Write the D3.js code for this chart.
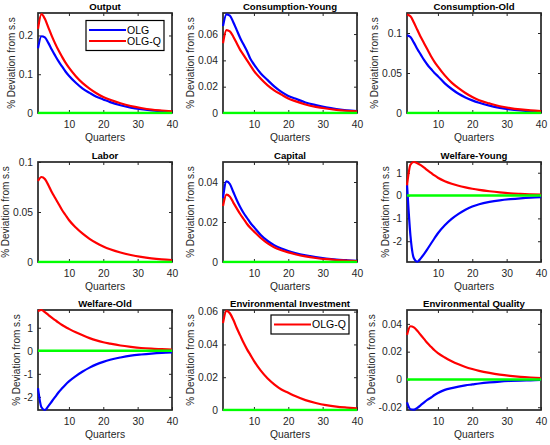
<!DOCTYPE html>
<html>
<head>
<meta charset="utf-8">
<script src="https://cdn.jsdelivr.net/npm/d3@7"></script>
<style>
  body { margin: 0; background: #fff; }
  svg { font-family: "Liberation Sans", Arial, sans-serif; }
</style>
</head>
<body>
<svg id="chart" width="550" height="445"></svg>
<script>
"use strict";

const quarters = [1, 2, 3, 4, 5, 6, 7, 8, 9, 10, 12, 14, 16, 18, 20, 22, 25, 28, 31, 34, 37, 40];
const steadyState = [0, 0, 0, 0, 0, 0, 0, 0, 0, 0, 0, 0, 0, 0, 0, 0, 0, 0, 0, 0, 0, 0];

const outputOLG = [0.167, 0.198, 0.195, 0.181, 0.164, 0.148, 0.133, 0.120, 0.107, 0.096, 0.078, 0.063, 0.052, 0.042, 0.035, 0.028, 0.020, 0.014, 0.010, 0.007, 0.0045, 0.003];
const outputOLGQ = [0.217, 0.255, 0.243, 0.221, 0.199, 0.179, 0.161, 0.145, 0.130, 0.117, 0.095, 0.077, 0.063, 0.051, 0.041, 0.034, 0.025, 0.018, 0.013, 0.009, 0.0065, 0.0045];

const consYoungOLG = [0.066, 0.075, 0.074, 0.069, 0.063, 0.057, 0.052, 0.047, 0.041, 0.037, 0.030, 0.025, 0.020, 0.016, 0.013, 0.011, 0.008, 0.006, 0.0043, 0.003, 0.002, 0.0015];
const consYoungOLGQ = [0.053, 0.063, 0.062, 0.058, 0.053, 0.048, 0.044, 0.040, 0.036, 0.032, 0.026, 0.021, 0.017, 0.014, 0.011, 0.009, 0.0065, 0.0047, 0.0034, 0.0024, 0.0017, 0.0012];

const consOldOLG = [0.097, 0.095, 0.088, 0.080, 0.073, 0.066, 0.060, 0.055, 0.050, 0.046, 0.037, 0.030, 0.024, 0.0195, 0.0158, 0.0128, 0.0092, 0.0065, 0.0046, 0.0033, 0.0023, 0.0016];
const consOldOLGQ = [0.123, 0.121, 0.113, 0.104, 0.095, 0.087, 0.079, 0.071, 0.064, 0.058, 0.047, 0.038, 0.031, 0.025, 0.020, 0.016, 0.012, 0.0085, 0.0062, 0.0045, 0.0032, 0.0023];

const laborOLGQ = [0.081, 0.085, 0.083, 0.077, 0.070, 0.064, 0.058, 0.052, 0.047, 0.042, 0.0345, 0.0283, 0.0232, 0.019, 0.0156, 0.0128, 0.0095, 0.007, 0.0051, 0.0037, 0.0027, 0.002];

const capitalOLG = [0.032, 0.0403, 0.039, 0.035, 0.031, 0.0275, 0.0245, 0.022, 0.0195, 0.0175, 0.0135, 0.0105, 0.0083, 0.0067, 0.0055, 0.0045, 0.0033, 0.0024, 0.0017, 0.0012, 0.0009, 0.0006];
const capitalOLGQ = [0.028, 0.0337, 0.0327, 0.0297, 0.0268, 0.024, 0.0215, 0.019, 0.017, 0.0153, 0.012, 0.0093, 0.0073, 0.0059, 0.0048, 0.0039, 0.0028, 0.002, 0.0014, 0.001, 0.0007, 0.0005];

const welfYoungOLG = [0.5, -1.75, -2.75, -2.9, -2.75, -2.55, -2.33, -2.1, -1.87, -1.65, -1.3, -1.02, -0.8, -0.62, -0.48, -0.38, -0.28, -0.21, -0.16, -0.12, -0.09, -0.07];
const welfYoungOLGQ = [0.45, 1.35, 1.47, 1.42, 1.33, 1.22, 1.1, 0.99, 0.88, 0.78, 0.63, 0.52, 0.43, 0.36, 0.3, 0.25, 0.19, 0.14, 0.1, 0.075, 0.055, 0.04];

const welfOldOLG = [-1.62, -2.45, -2.57, -2.4, -2.2, -2.0, -1.8, -1.63, -1.47, -1.33, -1.1, -0.9, -0.73, -0.59, -0.48, -0.39, -0.29, -0.21, -0.16, -0.12, -0.09, -0.07];
const welfOldOLGQ = [1.72, 1.77, 1.68, 1.56, 1.44, 1.33, 1.22, 1.12, 1.03, 0.95, 0.8, 0.67, 0.55, 0.45, 0.37, 0.31, 0.23, 0.17, 0.12, 0.09, 0.07, 0.05];

const envInvOLGQ = [0.053, 0.0605, 0.059, 0.055, 0.050, 0.0455, 0.041, 0.037, 0.0335, 0.030, 0.024, 0.0192, 0.0155, 0.0125, 0.0105, 0.0085, 0.006, 0.0043, 0.003, 0.0021, 0.0015, 0.001];

const envQualOLG = [-0.0165, -0.0215, -0.0218, -0.0205, -0.0185, -0.0165, -0.0146, -0.013, -0.0112, -0.0097, -0.0075, -0.0062, -0.0052, -0.0043, -0.0036, -0.0029, -0.0021, -0.0015, -0.0011, -0.0008, -0.0006, -0.0004];
const envQualOLGQ = [0.032, 0.0383, 0.0375, 0.035, 0.032, 0.029, 0.026, 0.0235, 0.021, 0.019, 0.0158, 0.0131, 0.0109, 0.009, 0.0075, 0.0062, 0.0047, 0.0035, 0.0026, 0.0019, 0.0014, 0.001];

const titles = ["Output", "Consumption-Young", "Consumption-Old", "Labor", "Capital",
  "Welfare-Young", "Welfare-Old", "Environmental Investment", "Environmental Quality"];
const olgSeries = [outputOLG, consYoungOLG, consOldOLG, null, capitalOLG, welfYoungOLG, welfOldOLG, null, envQualOLG];
const olgqSeries = [outputOLGQ, consYoungOLGQ, consOldOLGQ, laborOLGQ, capitalOLGQ, welfYoungOLGQ, welfOldOLGQ, envInvOLGQ, envQualOLGQ];
const yLimits = [[0, 0.258], [0, 0.076], [0, 0.125], [0, 0.1], [0, 0.05],
  [-2.91, 1.47], [-2.57, 1.77], [0, 0.061], [-0.022, 0.05]];
const yTickValues = [[0, 0.1, 0.2], [0, 0.02, 0.04, 0.06], [0, 0.05, 0.1], [0, 0.05, 0.1], [0, 0.02, 0.04],
  [-2, -1, 0, 1], [-2, -1, 0, 1], [0, 0.02, 0.04, 0.06], [-0.02, 0, 0.02, 0.04]];
const xTickValues = [10, 20, 30, 40];
const legends = { 0: ["OLG", "OLG-Q"], 7: ["OLG-Q"] };

const colors = { OLG: "#0000ff", "OLG-Q": "#ff0000", ss: "#00ff00" };
const ink = "#262626";

// Layout of the 3x3 grid of axes
const colLeft = [38, 223, 407];
const rowTop = [13, 162, 310];
const plotW = 134;
const plotH = 100;

const svg = d3.select("#chart");

function drawPanel(i) {
  const left = colLeft[i % 3];
  const top = rowTop[Math.floor(i / 3)];

  const x = d3.scaleLinear().domain([1, 40]).range([0, plotW]);
  const y = d3.scaleLinear().domain(yLimits[i]).range([plotH, 0]);

  const g = svg.append("g").attr("transform", `translate(${left},${top})`);

  // Axes with inward ticks on all four sides (MATLAB box style)
  const fmt = (d) => String(d);
  const xAxis = g.append("g").attr("transform", `translate(0,${plotH})`)
    .call(d3.axisBottom(x).tickValues(xTickValues).tickSize(-3).tickPadding(8).tickFormat(fmt));
  g.append("g").call(d3.axisTop(x).tickValues(xTickValues).tickSize(-3).tickFormat(""));
  const yAxis = g.append("g")
    .call(d3.axisLeft(y).tickValues(yTickValues[i]).tickSize(-3).tickPadding(5).tickFormat(fmt));
  g.append("g").attr("transform", `translate(${plotW},0)`)
    .call(d3.axisRight(y).tickValues(yTickValues[i]).tickSize(-3).tickFormat(""));

  g.selectAll(".domain").remove();
  g.selectAll(".tick line").attr("stroke", ink).attr("stroke-width", 1);
  [xAxis, yAxis].forEach((a) => a.selectAll("text")
    .attr("fill", ink).attr("font-size", "10.3px").attr("font-family", null));

  g.append("rect")
    .attr("width", plotW).attr("height", plotH)
    .attr("fill", "none").attr("stroke", ink).attr("stroke-width", 1.7);

  // Lines go over the box, clipped a little outside it so edge lines stay whole
  g.append("clipPath").attr("id", `clip-${i}`)
    .append("rect").attr("x", -1).attr("y", -1.5)
    .attr("width", plotW + 2).attr("height", plotH + 3);

  const line = d3.line()
    .x((d, k) => x(quarters[k]))
    .y((d) => y(d))
    .curve(d3.curveMonotoneX);

  const lines = g.append("g").attr("clip-path", `url(#clip-${i})`);
  const drawn = [];
  if (olgSeries[i]) drawn.push([olgSeries[i], colors.OLG, 2.2]);
  drawn.push([olgqSeries[i], colors["OLG-Q"], 2.2]);
  drawn.push([steadyState, colors.ss, 2.6]);
  drawn.forEach(([data, color, w]) => {
    lines.append("path")
      .attr("d", line(data))
      .attr("fill", "none")
      .attr("stroke", color)
      .attr("stroke-width", w);
  });

  // Title
  g.append("text")
    .attr("x", plotW / 2).attr("y", -3.5)
    .attr("text-anchor", "middle")
    .attr("font-size", "9.6px").attr("font-weight", "bold")
    .attr("fill", "#000")
    .text(titles[i]);

  // x label
  g.append("text")
    .attr("x", plotW / 2).attr("y", plotH + 28)
    .attr("text-anchor", "middle")
    .attr("font-size", "10.3px").attr("fill", ink)
    .text("Quarters");

  // y label placed next to the widest tick label
  const tickW = d3.max(yAxis.selectAll("text").nodes(), (n) => n.getComputedTextLength());
  g.append("text")
    .attr("transform", `translate(${-(tickW + 8.5)},${plotH / 2}) rotate(-90)`)
    .attr("text-anchor", "middle")
    .attr("font-size", "10px").attr("fill", ink)
    .text("% Deviation from s.s");

  if (legends[i]) drawLegend(g, legends[i]);
}

function drawLegend(g, names) {
  const w = 78;
  const h = 11 * names.length + 8;
  const lx = plotW - 8 - w;
  const ly = names.length > 1 ? 7.5 : 5;
  const lg = g.append("g").attr("transform", `translate(${lx},${ly})`);
  lg.append("rect")
    .attr("width", w).attr("height", h)
    .attr("fill", "#fff").attr("stroke", "#000").attr("stroke-width", 1.2);
  names.forEach((name, k) => {
    const cy = 4 + 5.5 + 11 * k;
    lg.append("line")
      .attr("x1", 3).attr("x2", 40).attr("y1", cy).attr("y2", cy)
      .attr("stroke", colors[name]).attr("stroke-width", 2.2);
    lg.append("text")
      .attr("x", 41).attr("y", cy).attr("dy", "0.35em")
      .attr("font-size", "10.5px").attr("fill", "#000")
      .text(name);
  });
}

titles.forEach((t, i) => drawPanel(i));
</script>
</body>
</html>
